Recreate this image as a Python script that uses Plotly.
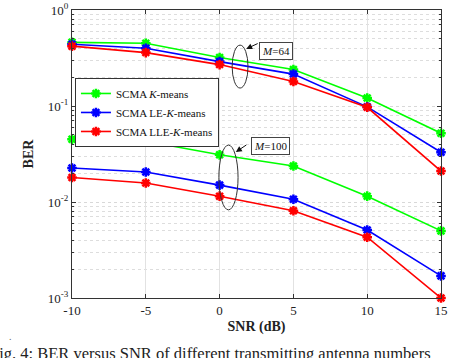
import plotly.graph_objects as go

snr = [-10, -5, 0, 5, 10, 15]
# M = 64
k64 = [0.46, 0.45, 0.32, 0.24, 0.121, 0.052]
le64 = [0.44, 0.40, 0.29, 0.215, 0.098, 0.033]
lle64 = [0.42, 0.36, 0.27, 0.18, 0.097, 0.021]
# M = 100
k100 = [0.045, 0.043, 0.031, 0.0237, 0.0115, 0.005]
le100 = [0.0226, 0.0205, 0.015, 0.0107, 0.0051, 0.0017]
lle100 = [0.018, 0.0158, 0.0115, 0.0081, 0.0043, 0.001]

names = ["SCMA <i>K</i>-means", "SCMA LE-<i>K</i>-means", "SCMA LLE-<i>K</i>-means"]
colors = ["#00ff00", "#0000ff", "#ff0000"]

ytickvals = [1, 0.1, 0.01, 0.001]
yticktext = ["10<sup>0</sup>", "10<sup>-1</sup>", "10<sup>-2</sup>", "10<sup>-3</sup>"]
xtickvals = [-10, -5, 0, 5, 10, 15]
xticktext = ["-10", "-5", "0", "5", "10", "15"]
minor_y = [m * d for d in (0.001, 0.01, 0.1) for m in range(2, 10)]

fig = go.Figure()
series64 = [k64, le64, lle64]
series100 = [k100, le100, lle100]
for i in range(3):
    mk = dict(symbol="asterisk-open", size=8, color=colors[i], line=dict(width=2.5, color=colors[i]))
    fig.add_trace(go.Scatter(x=snr, y=series64[i], mode="lines+markers", name=names[i],
                             line=dict(color=colors[i], width=1.6), marker=mk, legendgroup=str(i), cliponaxis=False))
for i in range(3):
    mk = dict(symbol="asterisk-open", size=8, color=colors[i], line=dict(width=2.5, color=colors[i]))
    fig.add_trace(go.Scatter(x=snr, y=series100[i], mode="lines+markers", name=names[i],
                             line=dict(color=colors[i], width=1.6), marker=mk, legendgroup=str(i),
                             showlegend=False, cliponaxis=False))

serif = "Liberation Serif"
fig.update_layout(
    width=474, height=358,
    margin=dict(l=72, r=33, t=10, b=60),
    paper_bgcolor="white", plot_bgcolor="white",
    font=dict(family=serif, size=13, color="#222"),
    showlegend=True,
    legend=dict(x=0.008, y=0.764, xanchor="left", yanchor="top",
                bgcolor="white", bordercolor="#333", borderwidth=1,
                font=dict(family=serif, size=11, color="#111"),
                tracegroupgap=0, itemwidth=30),
    xaxis=dict(range=[-10, 15], tickvals=xtickvals, ticktext=xticktext, automargin=False,
               showline=True, linecolor="#333", linewidth=1,
               mirror="ticks", ticks="inside", ticklen=4, tickcolor="#333",
               showgrid=True, gridcolor="#e2e2e2", gridwidth=1, zeroline=False,
               title=dict(text="<b>SNR (dB)</b>", font=dict(family=serif, size=14, color="#222"), standoff=4)),
    yaxis=dict(type="log", range=[-3, 0], tickvals=ytickvals, ticktext=yticktext, automargin=False,
               showline=True, linecolor="#333", linewidth=1, mirror="ticks",
               ticks="inside", ticklen=4, tickcolor="#333",
               showgrid=True, gridcolor="#d8d8d8", griddash="dot", zeroline=False,
               minor=dict(tickvals=minor_y, ticks="inside", ticklen=2, tickcolor="#333", showgrid=True,
                          gridcolor="#dddddd", griddash="dot"),
               title=dict(text="<b>BER</b>", font=dict(family=serif, size=14, color="#222"), standoff=10)),
)

# ellipses
fig.add_shape(type="circle", xref="paper", yref="paper", x0=0.434, x1=0.477, y0=0.729, y1=0.878,
              line=dict(color="#333", width=1))
fig.add_shape(type="circle", xref="paper", yref="paper", x0=0.398, x1=0.450, y0=0.306, y1=0.531,
              line=dict(color="#333", width=1))

# labels
fig.add_annotation(xref="paper", yref="paper", x=0.553, y=0.889, text="<i>M</i>=64", showarrow=False,
                   font=dict(family=serif, size=11, color="#111"), bgcolor="white",
                   bordercolor="#444", borderwidth=1, borderpad=2)
fig.add_annotation(xref="paper", yref="paper", x=0.537, y=0.528, text="<i>M</i>=100", showarrow=False,
                   font=dict(family=serif, size=11, color="#111"), bgcolor="white",
                   bordercolor="#444", borderwidth=1, borderpad=2)
# arrows
fig.add_annotation(xref="paper", yref="paper", x=0.472, y=0.865, axref="pixel", ayref="pixel",
                   ax=13, ay=-6, text="", showarrow=True, arrowhead=2, arrowsize=1.2,
                   arrowwidth=1, arrowcolor="#111")
fig.add_annotation(xref="paper", yref="paper", x=0.444, y=0.507, axref="pixel", ayref="pixel",
                   ax=12, ay=-8, text="", showarrow=True, arrowhead=2, arrowsize=1.2,
                   arrowwidth=1, arrowcolor="#111")

# caption (partly cut off at the bottom)
fig.add_annotation(xref="paper", yref="paper", x=-0.228, y=-0.152, xanchor="left", yanchor="top",
                   text="Fig. 4: BER versus SNR of different transmitting antenna numbers",
                   showarrow=False, font=dict(family=serif, size=16.5, color="#222"))
fig.add_annotation(xref="paper", yref="paper", x=-0.168, y=-0.135, xanchor="center", yanchor="middle",
                   text=".", showarrow=False, font=dict(family=serif, size=10, color="#666"))

fig.write_html("out.html", config={"displayModeBar": False},
               post_script="document.body.style.margin='0px';")
